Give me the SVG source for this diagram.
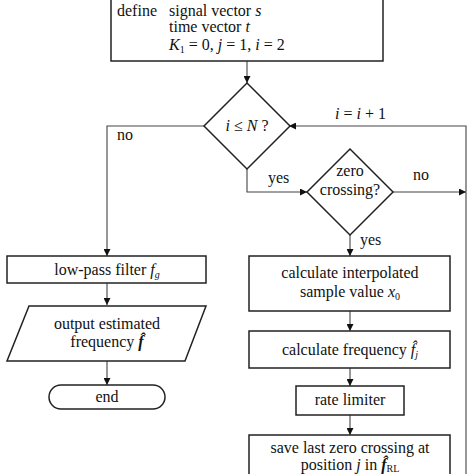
<svg xmlns="http://www.w3.org/2000/svg" width="474" height="474" viewBox="0 0 474 474">
<defs>
<marker id="ah" viewBox="0 0 10 10" refX="10" refY="5" markerWidth="7" markerHeight="7" markerUnits="userSpaceOnUse" orient="auto">
<path d="M0,0 L10,5 L0,10 z" fill="#111"/>
</marker>
<style>
.n{fill:#fff;stroke:#222;stroke-width:1.5}
.c{fill:none;stroke:#444;stroke-width:1.1}
.a{marker-end:url(#ah)}
text{font-family:"Liberation Serif","DejaVu Serif",serif;font-size:16px;fill:#111}
.m{text-anchor:middle}
.i{font-style:italic}
.b{font-weight:bold;font-style:italic}
</style>
</defs>
<rect width="474" height="474" fill="#fff"/>
<g id="connectors">
<path class="c a" d="M247,61 V83"/>
<path class="c a" d="M204,126 H107 V256"/>
<path class="c a" d="M247,169 V192 H307"/>
<path class="c a" d="M393,192 H466"/>
<path class="c a" d="M466,474 V126 H289"/>
<path class="c a" d="M350,234 V256"/>
<path class="c a" d="M350,311 V331"/>
<path class="c a" d="M350,368 V386"/>
<path class="c a" d="M350,415 V435"/>
<path class="c a" d="M107,283 V305"/>
<path class="c a" d="M107,361 V385"/>
<text x="117" y="140">no</text>
<text x="268" y="183">yes</text>
<text x="413" y="180">no</text>
<text x="360" y="245">yes</text>
<text x="335" y="119"><tspan class="i">i</tspan> = <tspan class="i">i</tspan> + 1</text>
</g>
<g id="init">
<rect class="n" x="111" y="-5" width="272" height="66"/>
<text x="117" y="16">define</text>
<text x="169" y="16">signal vector <tspan class="i">s</tspan></text>
<text x="169" y="32">time vector <tspan class="i">t</tspan></text>
<text x="169" y="50"><tspan class="i">K</tspan><tspan font-size="10" dy="3">1</tspan><tspan dy="-3"> = 0, </tspan><tspan class="i">j</tspan> = 1, <tspan class="i">i</tspan> = 2</text>
</g>
<g id="cond1">
<path class="n" d="M247,83 L290,126 L247,169 L204,126 Z"/>
<text class="m" x="247" y="131"><tspan class="i">i</tspan> ≤ <tspan class="i">N</tspan> ?</text>
</g>
<g id="cond2">
<path class="n" d="M350,149 L393,192 L350,235 L307,192 Z"/>
<text class="m" x="350" y="176">zero</text>
<text class="m" x="350" y="195">crossing?</text>
</g>
<g id="interp">
<rect class="n" x="249" y="256" width="201" height="55"/>
<text class="m" x="350" y="278">calculate interpolated</text>
<text class="m" x="350" y="297">sample value <tspan class="i">x</tspan><tspan font-size="10" dy="3">0</tspan></text>
</g>
<g id="freq">
<rect class="n" x="249" y="331" width="201" height="37"/>
<text class="m" x="350" y="355">calculate frequency <tspan class="i">f̂</tspan><tspan class="i" font-size="10" dy="3">j</tspan></text>
</g>
<g id="rate">
<rect class="n" x="296" y="386" width="108" height="29"/>
<text class="m" x="350" y="405">rate limiter</text>
</g>
<g id="save">
<rect class="n" x="249" y="435" width="201" height="50"/>
<text class="m" x="350" y="453">save last zero crossing at</text>
<text class="m" x="350" y="470">position <tspan class="i">j</tspan> in <tspan class="b">f̂</tspan><tspan font-size="10" dy="2">RL</tspan></text>
</g>
<g id="lowpass">
<rect class="n" x="7" y="256" width="199" height="27"/>
<text class="m" x="107" y="275">low-pass filter <tspan class="i">f</tspan><tspan class="i" font-size="10" dy="3">g</tspan></text>
</g>
<g id="output">
<path class="n" d="M29,306 L206,306 L185,361 L7,361 Z"/>
<text class="m" x="107" y="329">output estimated</text>
<text class="m" x="107" y="347">frequency <tspan class="b">f̂</tspan></text>
</g>
<g id="end">
<rect class="n" x="49" y="385" width="116" height="24" rx="12"/>
<text class="m" x="107" y="402">end</text>
</g>
</svg>
